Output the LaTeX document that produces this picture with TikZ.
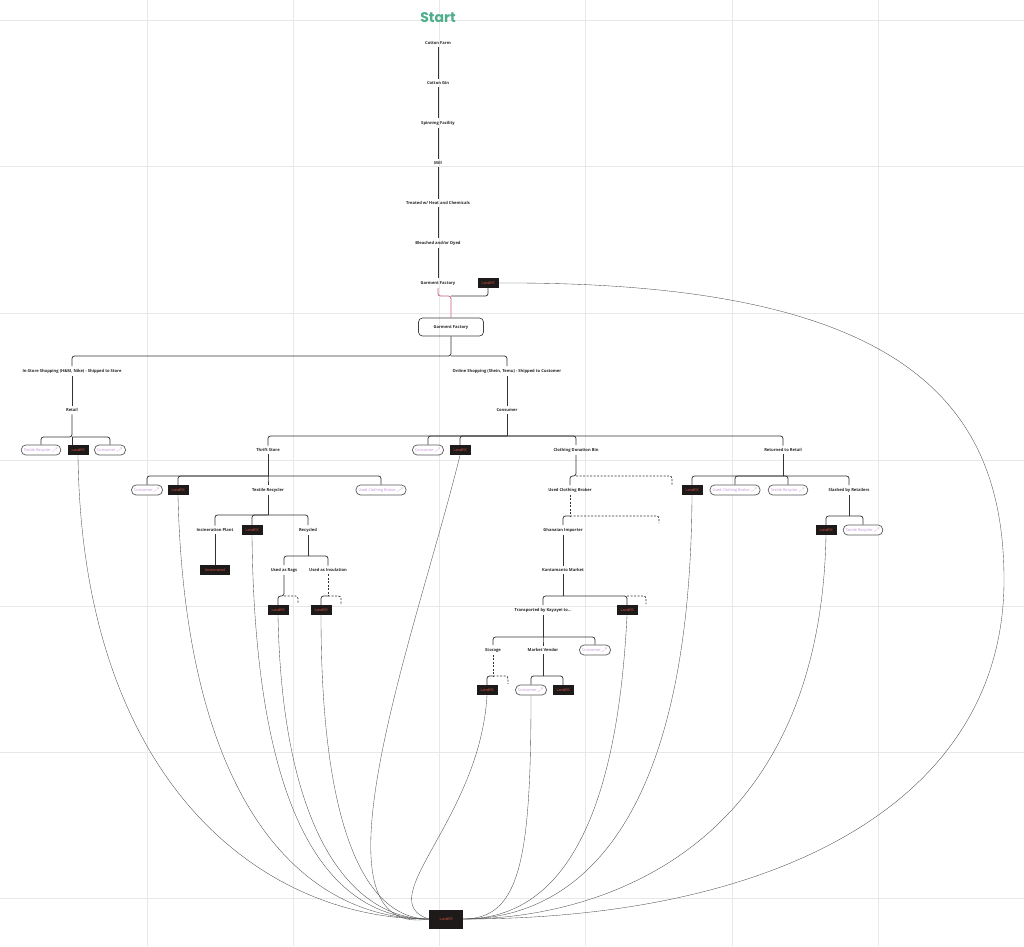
\documentclass[tikz,border=0pt]{standalone}
\usepackage{fontspec}
\setmainfont{Open Sans}
\newfontfamily\startfont{Poppins}
\usepackage{tikz}
\usetikzlibrary{positioning}

\definecolor{startgreen}{RGB}{79,174,138}
\definecolor{dumpfill}{RGB}{30,26,26}
\definecolor{dumptext}{RGB}{222,84,64}
\definecolor{pilltext}{RGB}{198,140,218}
\definecolor{rosecol}{RGB}{200,96,124}
\definecolor{gridcol}{RGB}{232,232,232}

\newcommand\pilltxt[1]{#1\,$\nearrow$}

\tikzset{
  lbl/.style={font=\bfseries\fontsize{4.1}{5}\selectfont, text=black!85, inner sep=2.6pt},
  dump/.style={fill=dumpfill, text=dumptext, font=\fontsize{3.8}{4.5}\selectfont, minimum width=21pt, minimum height=10pt, inner sep=1pt},
  pill/.style={draw=black!65, line width=.7pt, fill=white, rounded corners=4.5pt, text=pilltext, font=\fontsize{3.8}{4.5}\selectfont, minimum height=10pt, inner xsep=2.5pt, inner ysep=1pt},
  link/.style={draw=black!80, line width=.75pt, rounded corners=2.5pt},
  stub/.style={link, dash pattern=on 2pt off 1.5pt},
  tolandfill/.style={draw=black!70, line width=.35pt},
}

\begin{document}
\begin{tikzpicture}[x=1pt,y=-1pt]
  \useasboundingbox (0,0) rectangle (1024,946);
  \fill[white] (0,0) rectangle (1024,946);
  % board grid
  \foreach \x in {147,293,439,585,732,878} \draw[gridcol,line width=.8pt] (\x,0) -- (\x,946);
  \foreach \y in {20,166,313,460,606,752,898} \draw[gridcol,line width=.8pt] (0,\y) -- (1024,\y);

  \node[font=\startfont\bfseries\fontsize{14}{16}\selectfont, text=startgreen] (start) at (438,18) {Start};
  \node[lbl] (farm) at (438,43) {Cotton Farm};
  \node[lbl] (gin) at (438,83) {Cotton Gin};
  \node[lbl] (spin) at (438,123) {Spinning Facility};
  \node[lbl] (mill) at (438,163) {Mill};
  \node[lbl] (treat) at (438,203) {Treated w/ Heat and Chemicals};
  \node[lbl] (bleach) at (438,243) {Bleached and/or Dyed};
  \node[lbl] (gf) at (438,283) {Garment Factory};
  \node[dump] (lf0) at (488,283) {Landfill};
  \node[lbl, draw=black!75, line width=.7pt, rounded corners=4pt, minimum width=65pt, minimum height=18pt] (gfbox) at (451,327) {Garment Factory};

  \node[lbl] (instore) at (72,371) {In-Store Shopping (H\&M, Nike) - Shipped to Store};
  \node[lbl] (online) at (507,371) {Online Shopping (Shein, Temu) - Shipped to Customer};
  \node[lbl] (retail) at (72,410) {Retail};
  \node[lbl] (consumer) at (507,410) {Consumer};

  \node[pill] (rtex) at (41,450) {\pilltxt{Textile Recycler}};
  \node[dump] (lf1) at (78,450) {Landfill};
  \node[pill] (rcons) at (110,450) {\pilltxt{Consumer}};
  \node[lbl] (thrift) at (268,450) {Thrift Store};
  \node[pill] (ocons) at (428,450) {\pilltxt{Consumer}};
  \node[dump] (lf2) at (460,450) {Landfill};
  \node[lbl] (bin) at (576,450) {Clothing Donation Bin};
  \node[lbl] (returned) at (783,450) {Returned to Retail};

  \node[pill] (tcons) at (147,490) {\pilltxt{Consumer}};
  \node[dump] (lf3) at (178,490) {Landfill};
  \node[lbl] (trec) at (268,490) {Textile Recycler};
  \node[pill] (tbroker) at (381,490) {\pilltxt{Used Clothing Broker}};
  \node[lbl] (broker) at (570,490) {Used Clothing Broker};
  \node[dump] (lf4) at (692,490) {Landfill};
  \node[pill] (rbroker) at (735,490) {\pilltxt{Used Clothing Broker}};
  \node[pill] (rrec) at (788,490) {\pilltxt{Textile Recycler}};
  \node[lbl] (slashed) at (849,490) {Slashed by Retailers};

  \node[lbl] (incin) at (215,530) {Incineration Plant};
  \node[dump] (lf5) at (252,530) {Landfill};
  \node[lbl] (recycled) at (308,530) {Recycled};
  \node[lbl] (importer) at (563,530) {Ghanaian Importer};
  \node[dump] (lf6) at (826,530) {Landfill};
  \node[pill] (srec) at (863,530) {\pilltxt{Textile Recycler}};

  \node[dump, minimum width=30pt] (incd) at (215,570) {Incinerated};
  \node[lbl] (rags) at (284,570) {Used as Rags};
  \node[lbl] (insul) at (328,570) {Used as Insulation};
  \node[lbl] (market) at (563,570) {Kantamanto Market};

  \node[dump] (lf7) at (278,610) {Landfill};
  \node[dump] (lf8) at (321,610) {Landfill};
  \node[lbl] (kayayei) at (543,610) {Transported by Kayayei to...};
  \node[dump] (lf9) at (627,610) {Landfill};

  \node[lbl] (storage) at (493,650) {Storage};
  \node[lbl] (vendor) at (543,650) {Market Vendor};
  \node[pill] (kcons) at (595,650) {\pilltxt{Consumer}};
  \node[dump] (lf10) at (487,690) {Landfill};
  \node[pill] (vcons) at (531,690) {\pilltxt{Consumer}};
  \node[dump] (lf11) at (563,690) {Landfill};

  \node[dump, minimum width=34pt, minimum height=19pt] (lfend) at (446,919) {Landfill};

  % production chain
  \foreach \a/\b in {farm/gin,gin/spin,spin/mill,mill/treat,treat/bleach,bleach/gf} \draw[link] (\a) -- (\b);
  \coordinate (gfbar) at (451,296);
  \draw[link,draw=rosecol] (gf) |- (gfbar) -- (gfbox);
  \draw[link] (gfbar) -| (lf0);
  \coordinate (mainbar) at (451,356);
  \draw[link] (gfbox) -- (mainbar) -| (instore);
  \draw[link] (mainbar) -| (online);
  \draw[link] (instore) -- (retail);
  \draw[link] (online) -- (consumer);

  % in-store branch
  \coordinate (rbar) at (72,437);
  \draw[link] (retail) -- (rbar) -| (rtex);
  \draw[link] (rbar) -| (rcons);
  \draw[link] (rbar) -- (rbar |- lf1.north);

  % online branch
  \coordinate (cbar) at (507,436);
  \draw[link] (consumer) -- (cbar);
  \foreach \n in {thrift,ocons,lf2,bin,returned} \draw[link] (cbar) -| (\n);

  \coordinate (tbar) at (268,476);
  \draw[link] (thrift) -- (tbar);
  \foreach \n in {tcons,lf3,trec,tbroker} \draw[link] (tbar) -| (\n);
  \coordinate (trbar) at (268,515);
  \draw[link] (trec) -- (trbar);
  \foreach \n in {incin,lf5,recycled} \draw[link] (trbar) -| (\n);
  \draw[link] (incin) -- (incd);
  \coordinate (rcbar) at (308,556);
  \draw[link] (recycled) -- (rcbar);
  \foreach \n in {rags,insul} \draw[link] (rcbar) -| (\n);
  \coordinate (ragbar) at (284,596);
  \coordinate (ragstub) at (298,604);
  \draw[link] (rags) -- (ragbar) -| (lf7);
  \draw[stub] (ragbar) -| (ragstub);
  \coordinate (insbar) at (328,596);
  \coordinate (insstub) at (341,604);
  \draw[stub] (insul) -- (insbar);
  \draw[link] (insbar) -| (lf8);
  \draw[stub] (insbar) -| (insstub);

  % donation bin to Kantamanto
  \coordinate (binbar) at (576,476);
  \coordinate (binstub) at (672,485);
  \draw[link] (bin) -- (binbar) -| (broker);
  \draw[stub] (binbar) -| (binstub);
  \coordinate (brbar) at (570,516);
  \coordinate (brstub) at (659,523);
  \draw[stub] (broker) -- (brbar);
  \draw[link] (brbar) -| (importer);
  \draw[stub] (brbar) -| (brstub);
  \draw[link] (importer) -- (market);
  \coordinate (mkbar) at (563,596);
  \coordinate (mkstub) at (646,604);
  \draw[link] (market) -- (mkbar);
  \foreach \n in {kayayei,lf9} \draw[link] (mkbar) -| (\n);
  \draw[stub] (lf9 |- mkbar) -| (mkstub);
  \coordinate (kybar) at (543,637);
  \draw[link] (kayayei) -- (kybar);
  \foreach \n in {storage,vendor,kcons} \draw[link] (kybar) -| (\n);
  \coordinate (stbar) at (493,676);
  \coordinate (ststub) at (508,684);
  \draw[stub] (storage) -- (stbar);
  \draw[link] (stbar) -| (lf10);
  \draw[stub] (stbar) -| (ststub);
  \coordinate (vbar) at (543,676);
  \draw[link] (vendor) -- (vbar);
  \foreach \n in {vcons,lf11} \draw[link] (vbar) -| (\n);

  % returned branch
  \coordinate (rtbar) at (783,476);
  \draw[link] (returned) -- (rtbar);
  \foreach \n in {lf4,rbroker,rrec,slashed} \draw[link] (rtbar) -| (\n);
  \coordinate (slbar) at (849,516);
  \draw[link] (slashed) -- (slbar);
  \foreach \n in {lf6,srec} \draw[link] (slbar) -| (\n);

  % everything ends in the landfill
  \draw[tolandfill] (lf0.east) .. controls (900,281) and (1004,400) .. (1004,580) .. controls (1004,800) and (780,919) .. (lfend.east);
  \draw[tolandfill] (lf1.south) .. controls (82,780) and (260,919) .. (lfend.west);
  \draw[tolandfill] (lf3.south) .. controls (185,800) and (300,919) .. (lfend.west);
  \draw[tolandfill] (lf5.south) .. controls (255,820) and (330,919) .. (lfend.west);
  \draw[tolandfill] (lf7.south) .. controls (282,830) and (350,919) .. (lfend.west);
  \draw[tolandfill] (lf8.south) .. controls (321,840) and (370,919) .. (lfend.west);
  \draw[tolandfill] (lf2.south) .. controls (420,620) and (300,940) .. (lfend.west);
  \draw[tolandfill] (lf10.south) .. controls (480,820) and (370,900) .. (lfend.west);
  \draw[tolandfill] (vcons.south) .. controls (531,860) and (520,919) .. (lfend.east);
  \draw[tolandfill] (lf9.south) .. controls (615,860) and (540,919) .. (lfend.east);
  \draw[tolandfill] (lf4.south) .. controls (690,850) and (560,919) .. (lfend.east);
  \draw[tolandfill] (lf6.south) .. controls (820,850) and (600,919) .. (lfend.east);
\end{tikzpicture}
\end{document}
